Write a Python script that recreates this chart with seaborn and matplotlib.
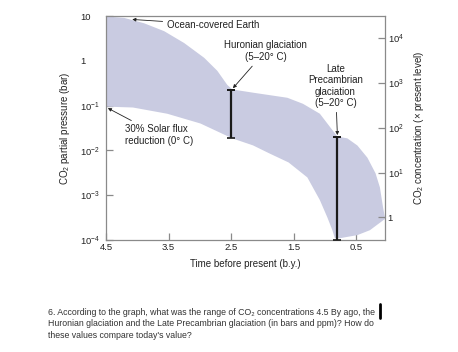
import numpy as np
import seaborn as sns
import matplotlib.pyplot as plt
from matplotlib.lines import Line2D
from matplotlib.ticker import FixedLocator, FixedFormatter

# boundaries of the shaded region (time in b.y., CO2 pressure in bar)
upper_t = [4.5, 4.21, 3.89, 3.57, 3.25, 2.93, 2.72, 2.56, 2.48, 2.15, 1.60, 1.35, 1.08,
           0.80, 0.64, 0.48, 0.32, 0.19, 0.12, 0.07, 0.04]
upper_p = [9.8, 9.1, 6.9, 4.6, 2.5, 1.17, 0.60, 0.29, 0.23, 0.195, 0.15, 0.11, 0.066,
           0.0204, 0.0186, 0.0129, 0.0069, 0.0031, 0.0015, 0.00054, 0.00032]
lower_t = [4.5, 4.07, 3.52, 2.99, 2.48, 2.15, 1.88, 1.58, 1.28, 1.08, 0.96, 0.88, 0.84,
           0.76, 0.48, 0.28, 0.04]
lower_p = [0.095, 0.091, 0.066, 0.040, 0.0186, 0.013, 0.0085, 0.0054, 0.0025, 0.00078,
           0.00032, 0.000166, 0.00011, 0.00011, 0.000129, 0.000166, 0.000295]

# glaciation ranges
glac_t = [2.5, 0.8]
glac_hi = [0.22, 0.0204]
glac_lo = [0.0186, 0.0001]

pal_bar = 3.2e-4   # 1 present atmospheric level in bar

x_ticks = [4.5, 3.5, 2.5, 1.5, 0.5]
left_ticks = [10, 1, 1e-1, 1e-2, 1e-3, 1e-4]
left_labels = ['10', '1', '$10^{-1}$', '$10^{-2}$', '$10^{-3}$', '$10^{-4}$']
right_ticks = [1e4, 1e3, 1e2, 1e1, 1]
right_labels = ['$10^{4}$', '$10^{3}$', '$10^{2}$', '$10^{1}$', '1']

sns.set_style("white")
plt.rcParams['font.family'] = ['Liberation Sans', 'DejaVu Sans']
plt.rcParams['mathtext.fontset'] = 'custom'
plt.rcParams['mathtext.rm'] = 'Liberation Sans'
plt.rcParams['mathtext.it'] = 'Liberation Sans'
plt.rcParams['xtick.direction'] = 'in'
plt.rcParams['ytick.direction'] = 'in'
plt.rcParams['xtick.bottom'] = True
plt.rcParams['ytick.left'] = True

fig = plt.figure(figsize=(4.58, 3.52), dpi=100)
ax = fig.add_axes([0.2314, 0.318, 0.609, 0.6364])

poly_t = list(upper_t) + list(lower_t[::-1])
poly_p = list(upper_p) + list(lower_p[::-1])
ax.fill(poly_t, poly_p, color='#c9cbe1', lw=0)

hi = np.array(glac_hi)
lo = np.array(glac_lo)
zero = np.zeros_like(hi)
ax.errorbar(glac_t, hi, yerr=[hi - lo, zero], fmt='none',
            ecolor='#1a1a1a', elinewidth=1.6, capsize=3, capthick=1.2, zorder=3)
ax.errorbar(glac_t, hi, yerr=[zero, zero], fmt='none',
            ecolor='#1a1a1a', elinewidth=1.6, capsize=3, capthick=1.2, zorder=3)

ax.set_yscale('log')
ax.set_xlim(4.5, 0.04)
ax.set_ylim(1e-4, 10)
ax.xaxis.set_major_locator(FixedLocator(x_ticks))
ax.set_xticklabels([str(v) for v in x_ticks])
ax.yaxis.set_major_locator(FixedLocator(left_ticks))
ax.yaxis.set_major_formatter(FixedFormatter(left_labels))
ax.yaxis.set_minor_locator(FixedLocator([]))

ax2 = ax.twinx()
ax2.set_yscale('log')
ax2.set_ylim(1e-4 / pal_bar, 10 / pal_bar)
ax2.yaxis.set_major_locator(FixedLocator(right_ticks))
ax2.yaxis.set_major_formatter(FixedFormatter(right_labels))
ax2.yaxis.set_minor_locator(FixedLocator([]))
for s in ax2.spines.values():
    s.set_visible(False)
ax2.tick_params(axis='y', direction='in', length=5, width=0.9, color='#8a8a8a',
                labelsize=6.8, labelcolor='#222222', pad=2)

for s in ax.spines.values():
    s.set_color('#8a8a8a')
    s.set_linewidth(0.9)
ax.tick_params(axis='both', direction='in', length=5, width=0.9, color='#8a8a8a',
               labelsize=6.8, labelcolor='#222222')
ax.tick_params(axis='x', pad=2)
ax.tick_params(axis='y', left=True, right=False, pad=18.5)
for lab in ax.get_yticklabels():
    lab.set_horizontalalignment('left')

ax.set_xlabel('Time before present (b.y.)', fontsize=7, color='#222222', labelpad=5)
ax.set_ylabel('CO$_2$ partial pressure (bar)', fontsize=7, color='#222222', labelpad=6)
ax2.set_ylabel('CO$_2$ concentration (× present level)', fontsize=7, color='#222222', labelpad=6)

arrow = dict(arrowstyle='-|>', lw=0.6, color='#222222', mutation_scale=5, shrinkA=1, shrinkB=0)
ax.annotate('Ocean-covered Earth', xy=(4.08, 8.4), xytext=(3.52, 6.4),
            fontsize=7, color='#222222', va='center', ha='left', arrowprops=arrow)
ax.annotate('Huronian glaciation\n(5–20° C)', xy=(2.47, 0.245), xytext=(1.95, 0.95),
            fontsize=7, color='#222222', va='bottom', ha='center', linespacing=1.2,
            arrowprops=arrow)
ax.annotate('Late\nPrecambrian\nglaciation\n(5–20° C)', xy=(0.8, 0.022), xytext=(0.83, 0.09),
            fontsize=7, color='#222222', va='bottom', ha='center', linespacing=1.15,
            arrowprops=arrow)
ax.annotate('30% Solar flux\nreduction (0° C)', xy=(4.47, 0.088), xytext=(4.2, 0.038),
            fontsize=7, color='#222222', va='top', ha='left', linespacing=1.15,
            arrowprops=arrow)

question = ("6. According to the graph, what was the range of CO\u2082 concentrations 4.5 By ago, the\n"
            "Huronian glaciation and the Late Precambrian glaciation (in bars and ppm)? How do\n"
            "these values compare today's value?")
fig.text(48 / 458, 1 - 308 / 352, question, fontsize=6.3, color='#333333',
         va='top', ha='left', linespacing=1.35, family=['Liberation Sans', 'DejaVu Sans'])
# text cursor after the first line
fig.add_artist(Line2D([380 / 458, 380 / 458], [1 - 304 / 352, 1 - 318 / 352],
                      transform=fig.transFigure, color='black', lw=2))

fig.savefig('out.png', dpi=100)
